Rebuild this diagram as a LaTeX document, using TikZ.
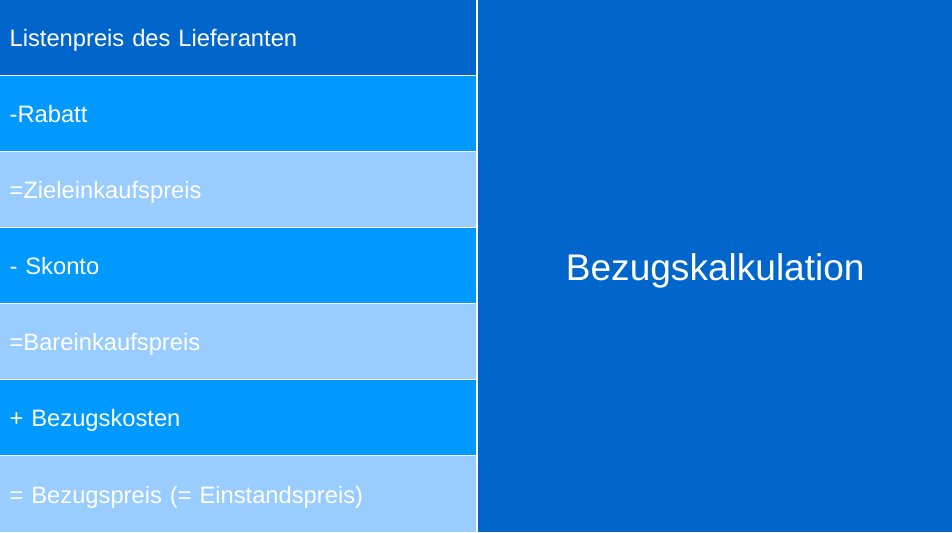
\documentclass[tikz,border=0pt]{standalone}
\usepackage{fontspec}
\setmainfont{Liberation Sans}
\usetikzlibrary{positioning}
\definecolor{kalkdark}{HTML}{0066CC}
\definecolor{kalkmid}{HTML}{0099FF}
\definecolor{kalklight}{HTML}{99CCFF}

\begin{document}
\begin{tikzpicture}[x=0.75pt,y=-0.75pt,
  Zeile/.style={rectangle,draw=none,text=white,anchor=north west,
    minimum height=56.25pt,text width=343pt,inner xsep=7pt,inner ysep=0pt,
    text height=16.9pt,text depth=3.6pt,
    align=left,font=\fontsize{17.8}{21}\selectfont},
  Titel/.style={rectangle,draw=none,fill=kalkdark,text=white,anchor=north west,
    minimum width=355.5pt,minimum height=399pt,text height=26.4pt,text depth=5.6pt,
    font=\fontsize{27.8}{33}\selectfont}]
\useasboundingbox[fill=white] (0,0) rectangle (952,532);

\node[Zeile,fill=kalkdark]  (Z1) at (0,0)   {Listenpreis des Lieferanten};
\node[Zeile,fill=kalkmid]   (Z2) at (0,76)  {-Rabatt};
\node[Zeile,fill=kalklight] (Z3) at (0,152) {=Zieleinkaufspreis};
\node[Zeile,fill=kalkmid]   (Z4) at (0,228) {- Skonto};
\node[Zeile,fill=kalklight] (Z5) at (0,304) {=Bareinkaufspreis};
\node[Zeile,fill=kalkmid]   (Z6) at (0,380) {+ Bezugskosten};
\node[Zeile,fill=kalklight,minimum height=57pt] (Z7) at (0,456) {= Bezugspreis (= Einstandspreis)};

\node[Titel] (BK) at (478,0) {Bezugskalkulation};
\end{tikzpicture}
\end{document}
